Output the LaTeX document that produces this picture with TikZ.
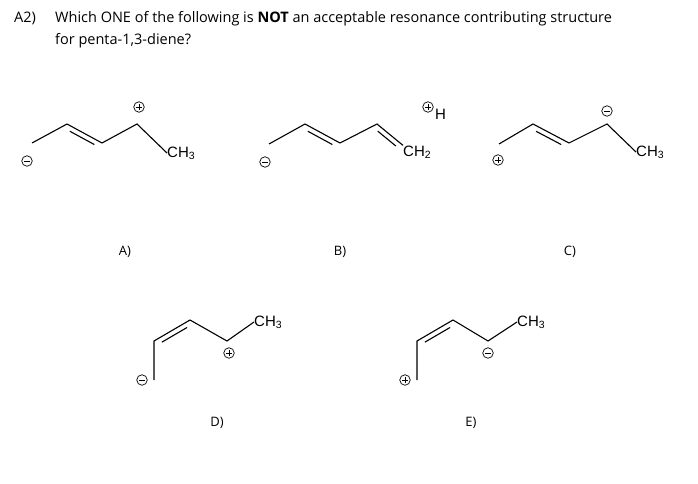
\documentclass[tikz,border=0pt]{standalone}
\usepackage{fontspec}
\setmainfont{Liberation Sans}
\newfontfamily\ttlfont{Open Sans}
\usetikzlibrary{calc}
\tikzset{bond/.style={line width=1.1pt},
 chg/.style={circle,draw,line width=0.7pt,minimum size=10.5pt,inner sep=0pt},
 lbl/.style={font=\ttlfont\fontsize{13pt}{13pt}\selectfont,inner sep=0pt},
 grp/.style={font=\fontsize{15pt}{15pt}\selectfont,inner sep=0pt},
 ttl/.style={font=\ttlfont\fontsize{14.5pt}{15pt}\selectfont,inner sep=0pt,anchor=base west}}
\newcommand{\plusc}[2]{\node[chg] (#1) at (#2) {}; \draw[line width=0.7pt] ($(#1)+(-3pt,0)$)--($(#1)+(3pt,0)$) ($(#1)+(0,-3pt)$)--($(#1)+(0,3pt)$);}
\newcommand{\minusc}[2]{\node[chg] (#1) at (#2) {}; \draw[line width=0.7pt] ($(#1)+(-3pt,0)$)--($(#1)+(3pt,0)$);}
\newcommand{\dbl}[3]{\draw[bond] ($(#1)!0.15!(#2)+(#3)$) -- ($(#2)!0.15!(#1)+(#3)$);}
\begin{document}
\begin{tikzpicture}[x=1pt,y=-1pt]
\useasboundingbox (0,0) rectangle (698,484);
\node[ttl] (t0) at (14,23) {A2)};
\node[ttl] (t1) at (55,23) {Which ONE of the following is \textbf{NOT} an acceptable resonance contributing structure};
\node[ttl] (t2) at (55,45) {for penta-1,3-diene?};
% A
\coordinate (a1) at (32,143); \coordinate (a2) at (67,124); \coordinate (a3) at (102,143); \coordinate (a4) at (137,124);
\node[grp,anchor=west] (a5) at (167,153) {CH\textsubscript{3}};
\draw[bond] (a1)--(a2)--(a3)--(a4)--(a5.west);
\dbl{a2}{a3}{-2.4,4.4}
\minusc{am}{27,161} \plusc{ap}{139,107}
\node[lbl] (la) at (125,252) {A)};
% B
\coordinate (b1) at (269,144); \coordinate (b2) at (305,124); \coordinate (b3) at (340,143); \coordinate (b4) at (377,124);
\node[grp,anchor=west] (b5) at (403,152) {CH\textsubscript{2}};
\draw[bond] (b1)--(b2)--(b3)--(b4)--(b5.north west);
\dbl{b2}{b3}{-2.4,4.4} \dbl{b4}{b5.north west}{-3.2,3.9}
\minusc{bm}{265,162} \plusc{bp}{428,107}
\node[grp,anchor=west] (bh) at (435,114) {H};
\node[lbl] (lb) at (340,252) {B)};
% C
\coordinate (c1) at (499,144); \coordinate (c2) at (533,124); \coordinate (c3) at (569,143); \coordinate (c4) at (607,124);
\node[grp,anchor=west] (c5) at (636,152) {CH\textsubscript{3}};
\draw[bond] (c1)--(c2)--(c3)--(c4)--(c5.west);
\dbl{c2}{c3}{-2.4,4.4}
\minusc{cm}{607,111} \plusc{cp}{498,160}
\node[lbl] (lc) at (570,252) {C)};
% D
\coordinate (d1) at (154,380); \coordinate (d2) at (154,341); \coordinate (d3) at (190,320); \coordinate (d4) at (227,341);
\node[grp,anchor=west] (d5) at (254,322) {CH\textsubscript{3}};
\draw[bond] (d1)--(d2)--(d3)--(d4)--(d5.west);
\dbl{d2}{d3}{2.5,4.3}
\minusc{dm}{142,380} \plusc{dp}{229,353}
\node[lbl] (ld) at (217,423) {D)};
% E
\coordinate (e1) at (417,380); \coordinate (e2) at (417,341); \coordinate (e3) at (453,320); \coordinate (e4) at (488,341);
\node[grp,anchor=west] (e5) at (517,322) {CH\textsubscript{3}};
\draw[bond] (e1)--(e2)--(e3)--(e4)--(e5.west);
\dbl{e2}{e3}{2.5,4.3}
\minusc{em}{488,353} \plusc{ep}{405,380}
\node[lbl] (le) at (471,423) {E)};
\end{tikzpicture}
\end{document}
